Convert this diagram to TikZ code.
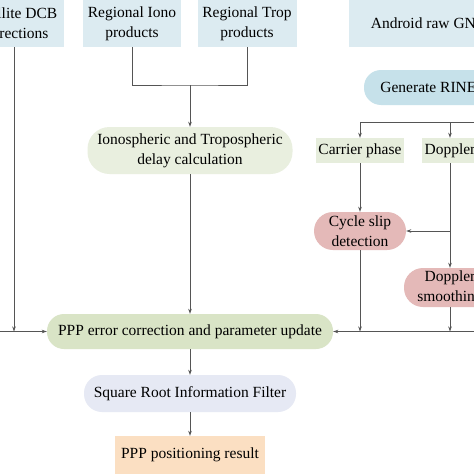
\documentclass[tikz,border=0pt]{standalone}
\usepackage{fontspec}
\setmainfont{Liberation Serif}
\usetikzlibrary{arrows.meta}
\definecolor{cblue}{HTML}{DCEBF1}
\definecolor{crinex}{HTML}{C6E1EA}
\definecolor{cionos}{HTML}{E9EFDF}
\definecolor{cobs}{HTML}{E6EDDC}
\definecolor{cred}{HTML}{E4B9B8}
\definecolor{cppp}{HTML}{D9E4C6}
\definecolor{csrif}{HTML}{E6E9F4}
\definecolor{cres}{HTML}{FBDFC2}
\definecolor{cline}{HTML}{555555}
\tikzset{
  base/.style={inner sep=0pt, align=center, font=\fontsize{15.5}{20}\selectfont, text=black},
  inbox/.style={base, fill=cblue},
  pill/.style={base, rounded corners=17pt},
  conn/.style={draw=cline, line width=0.8pt},
  arr/.style={conn, -{Stealth[length=5pt,width=3.5pt]}}
}
\begin{document}
\begin{tikzpicture}[x=1pt,y=-1pt]
\useasboundingbox (0,0) rectangle (474,474);
\clip (0,0) rectangle (474,474);
\fill[white] (0,0) rectangle (474,474);
% top inputs
\node[inbox, minimum width=100pt, minimum height=47pt] (dcb) at (14,23.5) {Satellite DCB\\corrections};
\node[inbox, minimum width=98pt, minimum height=47pt] (iono) at (132,23.5) {Regional Iono\\products};
\node[inbox, minimum width=99pt, minimum height=47pt] (trop) at (247,23.5) {Regional Trop\\products};
\node[inbox, minimum width=166pt, minimum height=47pt] (android) at (432,23.5) {Android raw GNSS};
\node[pill, fill=crinex, minimum width=140pt, minimum height=35pt] (rinex) at (434,87.5) {Generate RINEX};
% processing
\node[pill, fill=cionos, rounded corners=22pt, minimum width=205pt, minimum height=47pt] (ionos) at (190,150.5) {Ionospheric and Tropospheric\\delay calculation};
\node[base, fill=cobs, minimum width=88pt, minimum height=25pt] (carrier) at (360,150.5) {Carrier phase};
\node[base, fill=cobs, minimum width=56pt, minimum height=25pt] (doppler) at (450,150.5) {Doppler};
\node[pill, fill=cred, rounded corners=19pt, minimum width=92pt, minimum height=38pt] (cycle) at (360,231) {Cycle slip\\detection};
\node[pill, fill=cred, rounded corners=19pt, minimum width=92pt, minimum height=39pt] (dsmooth) at (450,287.5) {Doppler\\smoothing};
\node[pill, fill=cppp, minimum width=286pt, minimum height=35pt] (ppp) at (190,331.5) {PPP error correction and parameter update};
\node[pill, fill=csrif, rounded corners=18pt, minimum width=212pt, minimum height=37pt] (srif) at (190,393.5) {Square Root Information Filter};
\node[base, fill=cres, minimum width=150pt, minimum height=38pt] (res) at (190,455) {PPP positioning result};
% coordinates
\coordinate (jdcb) at (14,331.5);
\coordinate (lin) at (0,331.5);
\coordinate (jtop) at (190,85);
\coordinate (jobs) at (474,122);
\coordinate (jcar) at (360,122);
\coordinate (jdop) at (450,122);
\coordinate (rin) at (474,331.5);
% connectors
\draw[arr] (dcb.south) -- (jdcb);
\draw[arr] (lin) -- (ppp.west);
\draw[conn] (iono.south) |- (jtop) -| (trop.south);
\draw[arr] (jtop) -- (ionos.north);
\draw[arr] (ionos.south) -- (ppp.north);
\draw[conn] (jobs) -- (jcar);
\draw[arr] (jcar) -- (carrier.north);
\draw[arr] (jdop) -- (doppler.north);
\draw[arr] (carrier.south) -- (cycle.north);
\draw[arr] (doppler.south) -- (dsmooth.north);
\draw[arr] (doppler.south |- cycle.east) -- (cycle.east);
\draw[arr] (rin) -- (ppp.east);
\draw[arr] (cycle.south) -- (cycle.south |- rin);
\draw[arr] (dsmooth.south) -- (dsmooth.south |- rin);
\draw[arr] (ppp.south) -- (srif.north);
\draw[arr] (srif.south) -- (res.north);
\end{tikzpicture}
\end{document}
